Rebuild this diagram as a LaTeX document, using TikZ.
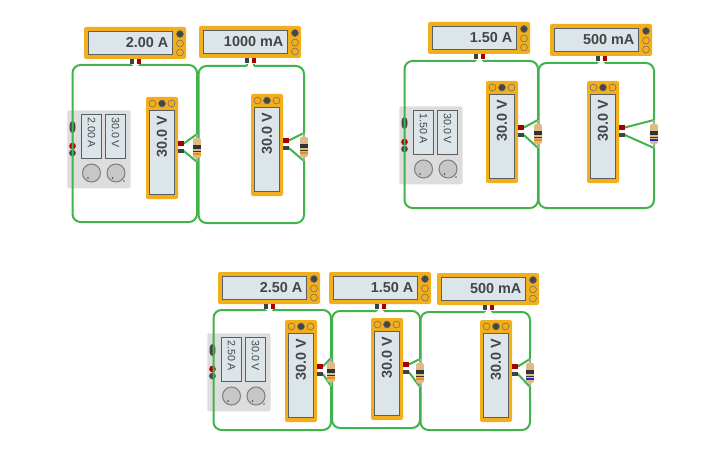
\documentclass[tikz,border=0pt]{standalone}
\usepackage{fontspec}
\setmainfont{Liberation Sans}
\usetikzlibrary{shapes.geometric,calc}
\definecolor{meterorange}{HTML}{F3AE1B}
\definecolor{lcdblue}{HTML}{DCE6EA}
\definecolor{lcdedge}{HTML}{5A5F5F}
\definecolor{wiregreen}{HTML}{3FB44B}
\definecolor{psugrey}{HTML}{DDDDDD}
\definecolor{inkdark}{HTML}{454545}
\definecolor{restan}{HTML}{DDBB85}
\definecolor{bandorange}{HTML}{F58A10}
\definecolor{bandblue}{HTML}{1A2BE0}
\pgfdeclarelayer{psu}
\pgfdeclarelayer{wires}
\pgfsetlayers{psu,wires,main}
\tikzset{
  meterbody/.style={rectangle,fill=meterorange,rounded corners=1.5pt,inner sep=0,outer sep=0,anchor=north west},
  lcdh/.style={rectangle,draw=lcdedge,line width=1.1pt,fill=lcdblue,inner sep=0,minimum width=63pt,minimum height=17.4pt},
  lcdv/.style={rectangle,draw=lcdedge,line width=1.1pt,fill=lcdblue,inner sep=0,minimum width=18.4pt,minimum height=63pt},
  lcdpsu/.style={rectangle,draw=lcdedge,line width=1.1pt,fill=lcdblue,inner sep=0,minimum width=15pt,minimum height=33pt},
  readout/.style={inner sep=0,text=inkdark,font=\fontsize{10.8}{12}\selectfont\bfseries},
  psutext/.style={inner sep=0,text=inkdark,font=\fontsize{8}{9}\selectfont,rotate=-90,anchor=west},
  btn/.style={circle,draw=inkdark!80,line width=.4pt,fill=meterorange,inner sep=0,minimum size=5.2pt},
  btnon/.style={btn,fill=inkdark},
  probered/.style={rectangle,fill=red!65!black,inner sep=0},
  probeblack/.style={rectangle,fill=black!75,inner sep=0},
  wire/.style={draw=wiregreen,line width=1.5pt,line join=round},
  lead/.style={draw=gray!70,line width=.9pt},
  resbody/.style={rectangle,rounded corners=1.5pt,fill=restan,inner sep=0,minimum width=5.8pt,minimum height=15pt},
  knob/.style={circle,draw=gray,line width=.8pt,fill=black!22,inner sep=0,minimum size=13.5pt},
  post/.style={ellipse,fill=inkdark,inner sep=0},
}

% name, left, top, reading
\newcommand{\ammeter}[4]{
  \begin{scope}[shift={(#2,#3)}]
    \node[meterbody,minimum width=76.5pt,minimum height=24pt] (#1) at (0,0) {};
    \node[lcdh] (#1lcd) at (46.5,16) {};
    \node[readout,anchor=east] (#1txt) at (84.5,16) {#4};
    \node[btnon] (#1on) at (96,7) {};
    \node[btn] (#1vb) at (96,16.5) {};
    \node[btn] (#1rb) at (96,25.5) {};
    \node[probeblack,minimum width=3pt,minimum height=3.8pt,anchor=north] (#1b) at (47.5,32) {};
    \node[probered,minimum width=3pt,minimum height=3.8pt,anchor=north] (#1r) at (55,32) {};
  \end{scope}
}
% name, left, top
\newcommand{\voltmeter}[3]{
  \begin{scope}[shift={(#2,#3)}]
    \node[meterbody,minimum width=24pt,minimum height=76.5pt] (#1) at (0,0) {};
    \node[lcdv] (#1lcd) at (16,55.5) {};
    \node[readout,rotate=90,anchor=east] (#1txt) at (16,19) {30.0 V};
    \node[btn] (#1ab) at (6.5,6.5) {};
    \node[btnon] (#1on) at (16,6.5) {};
    \node[btn] (#1rb) at (25.5,6.5) {};
    \node[probered,minimum width=4pt,minimum height=3.2pt,anchor=west] (#1r) at (32,46.5) {};
    \node[probeblack,minimum width=4pt,minimum height=3.2pt,anchor=west] (#1b) at (32,54) {};
  \end{scope}
}
% name, left, top, reading
\newcommand{\supply}[4]{
  \begin{pgfonlayer}{psu}
  \begin{scope}[shift={(#2,#3)}]
    \node[rectangle,fill=psugrey,rounded corners=1.5pt,inner sep=0,anchor=north west,minimum width=47.5pt,minimum height=58.5pt] (#1) at (0,0) {};
    \node[lcdpsu] (#1amp) at (24.5,26.5) {};
    \node[lcdpsu] (#1volt) at (48.5,26.5) {};
    \node[psutext] (#1atxt) at (24.5,7) {#4};
    \node[psutext] (#1vtxt) at (48.5,7) {30.0 V};
    \node[knob] (#1ka) at (24.5,63) {};
    \node[knob] (#1kv) at (49,63) {};
    \fill[inkdark] (21,68) circle (.6pt);
    \fill[inkdark] (45.5,68) circle (.6pt);
    \fill[wiregreen] (57,71) circle (.9pt);
    \node[post,minimum width=4.5pt,minimum height=9.5pt] (#1out) at (5.5,17) {};
    \node[circle,fill=red!70!black,inner sep=0,minimum size=5pt] (#1pos) at (5.5,36) {};
    \node[circle,fill=inkdark,inner sep=0,minimum size=5pt] (#1neg) at (5.5,43) {};
  \end{scope}
  \end{pgfonlayer}
}
% name, x, y of the top lead, y of the bottom lead, fourth band
\newcommand{\resistor}[5]{
  \coordinate (#1t) at (#2,#3);
  \coordinate (#1b) at (#2,#4);
  \node[resbody] (#1) at (#2,{(#3+#4)/2}) {};
  \draw[lead] (#1t) -- (#1.north);
  \draw[lead] (#1.south) -- (#1b);
  \fill[restan] ([yshift=-2.8pt]#1.north) circle (3.1pt);
  \fill[restan] ([yshift=2.8pt]#1.south) circle (3.1pt);
  \fill[black!80] ([xshift=-2.9pt,yshift=2.6pt]#1.center) rectangle ([xshift=2.9pt,yshift=1.1pt]#1.center);
  \fill[black!80] ([xshift=-2.9pt,yshift=.4pt]#1.center) rectangle ([xshift=2.9pt,yshift=-1.1pt]#1.center);
  \fill[black!80] ([xshift=-2.9pt,yshift=-1.9pt]#1.center) rectangle ([xshift=2.9pt,yshift=-3pt]#1.center);
  \fill[#5] ([xshift=-3.3pt,yshift=-3.6pt]#1.center) rectangle ([xshift=3.3pt,yshift=-5.6pt]#1.center);
}
% ammeter, voltmeter, resistor, left, top, bottom
\newcommand{\wireloop}[6]{
  \begin{pgfonlayer}{wires}
    \coordinate (#1nw) at (#4,#5);
    \coordinate (#1sw) at (#4,#6);
    \coordinate (#1ne) at (#3t |- #1nw);
    \coordinate (#1se) at (#3t |- #1sw);
    \coordinate (#1bt) at (#1b.south |- #1nw);
    \coordinate (#1rt) at (#1r.south |- #1nw);
    \draw[wire] (#1b.south) -- (#1bt);
    \draw[wire] (#1r.south) -- (#1rt);
    \draw[wire,rounded corners=6pt] (#1bt) -- (#1nw) -- (#1sw) -- (#1se) -- (#3b);
    \draw[wire,rounded corners=6pt] (#1rt) -- (#1ne) -- (#3t);
    \draw[wire] (#2r.east) -- (#3t);
    \draw[wire] (#2b.east) -- (#3b);
  \end{pgfonlayer}
}

\begin{document}
\begin{tikzpicture}[x=.75pt,y=-.75pt]
  \useasboundingbox (0,0) rectangle (725,453);

  \supply{psua}{67}{110}{2.00 A}
  \ammeter{ama}{84}{27}{2.00 A}
  \ammeter{amb}{199}{26}{1000 mA}
  \voltmeter{vma}{146}{97}
  \voltmeter{vmb}{251}{94}
  \resistor{ra}{197}{134}{162}{bandorange}
  \resistor{rb}{304}{133}{161}{bandorange}
  \wireloop{ama}{vma}{ra}{72.5}{65}{222}
  \wireloop{amb}{vmb}{rb}{198.5}{66}{223}

  \supply{psub}{399}{106}{1.50 A}
  \ammeter{amc}{428}{22}{1.50 A}
  \ammeter{amd}{550}{24}{500 mA}
  \voltmeter{vmc}{486}{81}
  \voltmeter{vmd}{587}{81}
  \resistor{rc}{538}{120}{148}{bandorange}
  \resistor{rd}{654}{120}{148}{bandblue}
  \wireloop{amc}{vmc}{rc}{404.5}{61}{208}
  \wireloop{amd}{vmd}{rd}{538.5}{63}{208}

  \supply{psuc}{207}{333}{2.50 A}
  \ammeter{ame}{218}{272}{2.50 A}
  \ammeter{amf}{329}{272}{1.50 A}
  \ammeter{amg}{437}{273}{500 mA}
  \voltmeter{vme}{285}{320}
  \voltmeter{vmf}{371}{318}
  \voltmeter{vmg}{480}{320}
  \resistor{re}{331}{358}{386}{bandorange}
  \resistor{rf}{420}{359}{387}{bandorange}
  \resistor{rg}{530}{359}{387}{bandblue}
  \wireloop{ame}{vme}{re}{213.5}{310}{430}
  \wireloop{amf}{vmf}{rf}{332}{311}{428}
  \wireloop{amg}{vmg}{rg}{420.5}{312}{430}
\end{tikzpicture}
\end{document}
